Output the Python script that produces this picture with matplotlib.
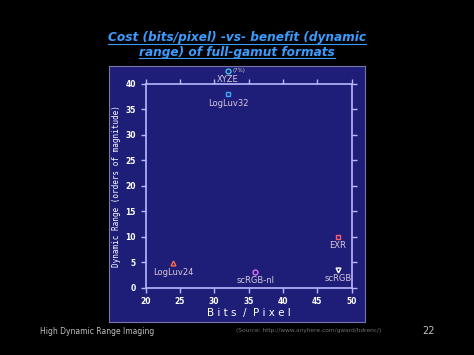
import matplotlib.pyplot as plt
from matplotlib.lines import Line2D

# Format data: bits per pixel vs dynamic range (orders of magnitude)
formats = ['XYZE', 'LogLuv32', 'LogLuv24', 'scRGB-nl', 'EXR', 'scRGB']
bits = [32, 32, 24, 36, 48, 48]
dyn_range = [42.6, 38, 4.8, 3.1, 10, 3.5]
marker_colors = ['#40c8e8', '#40a8ff', '#ff6a40', '#e070ff', '#ff6070', '#ffffff']
markers = ['o', 's', '^', 'o', 's', 'v']
x_ticks = [20, 25, 30, 35, 40, 45, 50]
y_ticks = [0, 5, 10, 15, 20, 25, 30, 35, 40]

bg = 'black'
panel = '#1e1e78'
axis_col = '#b8b8ff'
label_col = '#d8c8d8'

fig = plt.figure(figsize=(4.74, 3.55), dpi=100, facecolor=bg)

# Navy panel behind the chart
pan = fig.add_axes([0.230, 0.093, 0.540, 0.721], zorder=0)
pan.set_facecolor(panel)
pan.set_xticks([])
pan.set_yticks([])
for s in pan.spines.values():
    s.set_color('#7878a8')
    s.set_linewidth(0.8)

ax = fig.add_axes([0.307, 0.190, 0.435, 0.574], zorder=1)
ax.patch.set_alpha(0)

for name, x, y, c, m in zip(formats, bits, dyn_range, marker_colors, markers):
    ax.plot(x, y, marker=m, markersize=3.5, markerfacecolor='none',
            markeredgecolor=c, markeredgewidth=1, linestyle='none', clip_on=False)
    ax.text(x, y - 0.9, name, ha='center', va='top', fontsize=6, color=label_col)

ax.text(32.7, 42.6, '(7%)', ha='left', va='center', fontsize=4, color=label_col)

ax.set_xlim(20, 50)
ax.set_ylim(0, 40)
ax.set_xticks(x_ticks)
ax.set_yticks(y_ticks)
ax.tick_params(direction='out', length=3.5, width=1, color=axis_col,
               labelcolor='white', labelsize=5.5, top=True, right=True)
for lbl in ax.get_xticklabels() + ax.get_yticklabels():
    lbl.set_fontweight('bold')
for s in ax.spines.values():
    s.set_color(axis_col)
    s.set_linewidth(1.2)

ax.set_xlabel('B i t s  /  P i x e l', fontsize=7.5, color='white', labelpad=1)
ax.set_ylabel('Dynamic Range (orders of magnitude)', fontsize=5.5, color='white',
              family='DejaVu Sans Mono', labelpad=3)

# Title, blue italic bold, underlined
t1 = fig.text(0.5, 0.893, 'Cost (bits/pixel) -vs- benefit (dynamic', ha='center', va='center',
              fontsize=8.7, color='#3a9cff', fontweight='bold', style='italic')
t2 = fig.text(0.5, 0.853, 'range) of full-gamut formats', ha='center', va='center',
              fontsize=8.7, color='#3a9cff', fontweight='bold', style='italic')

# Footer
fig.text(0.085, 0.065, 'High Dynamic Range Imaging', fontsize=5.5, color='#c0c0c0', va='center')
fig.text(0.497, 0.070, '(Source: http://www.anyhere.com/gward/hdrenc/)', fontsize=4.2,
         color='#707070', va='center')
fig.text(0.890, 0.067, '22', fontsize=7, color='#c0c0c0', va='center')

fig.canvas.draw()
r = fig.canvas.get_renderer()
for t in (t1, t2):
    bb = t.get_window_extent(r).transformed(fig.transFigure.inverted())
    fig.lines.append(Line2D([bb.x0, bb.x1], [bb.y0 + 0.002, bb.y0 + 0.002], transform=fig.transFigure,
                            color='#3a9cff', linewidth=0.8))

fig.savefig('out.png', dpi=100, facecolor=bg)
